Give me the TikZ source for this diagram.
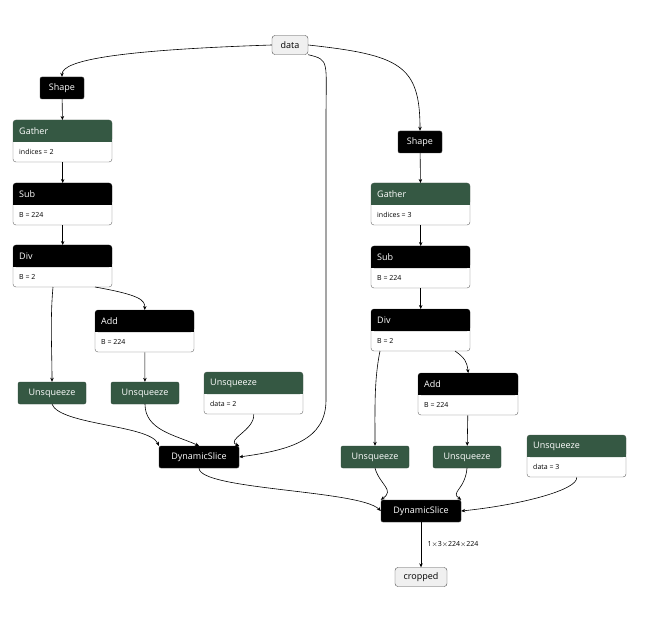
\documentclass[tikz,border=0pt]{standalone}
\usepackage{fontspec}
\setmainfont{Open Sans}
\usetikzlibrary{arrows.meta}
\definecolor{grn}{HTML}{355843}
\tikzset{
  x=1pt,y=-1pt,
  op/.style={draw=black!80,fill=black,text=white,rounded corners=2pt,inner sep=0pt,minimum height=22pt,font=\fontsize{9}{10}\selectfont},
  gop/.style={op,fill=grn,draw=grn!80!black},
  io/.style={draw=black!70,fill=black!6,rounded corners=3pt,inner sep=0pt,minimum height=19pt,font=\fontsize{9}{10}\selectfont},
  hdr/.style={anchor=north west,inner sep=0pt,text=white,font=\fontsize{9}{10}\selectfont,minimum height=22pt,text depth=0pt,align=left},
  attr/.style={font=\fontsize{7}{8}\selectfont,anchor=west,inner sep=0pt},
  e/.style={draw=black,line width=0.6pt,-{Stealth[length=4pt,width=3.5pt]}},
}
% name, x1, y1, x2, title, attribute, colour
\newcommand\opbox[7]{%
  \path[draw=black!60,fill=white,rounded corners=3pt] (#2,#3) rectangle (#4,#3+42);
  \path[fill=#7,rounded corners=3pt] (#2,#3) rectangle (#4,#3+22);
  \path[fill=#7] (#2,#3+12) rectangle (#4,#3+22);
  \node[inner sep=0pt,minimum width=#4pt-#2pt,minimum height=42pt,anchor=north west] (#1) at (#2,#3) {};
  \node[attr,text=white,font=\fontsize{9}{10}\selectfont] (#1-t) at (#2+6,#3+11) {#5};
  \node[attr] (#1-a) at (#2+6,#3+32) {#6};
}
\begin{document}
\begin{tikzpicture}
\useasboundingbox (0,0) rectangle (660,617);
\node[io,minimum width=36pt] (data) at (290,45) {data};
\node[op,minimum width=44pt] (shL) at (62,88) {Shape};
\opbox{gaL}{13}{120}{112}{Gather}{indices = 2}{grn}
\opbox{suL}{13}{183}{112}{Sub}{B = 224}{black}
\opbox{diL}{13}{245}{112}{Div}{B = 2}{black}
\opbox{adL}{95}{310}{194}{Add}{B = 224}{black}
\node[gop,minimum width=68pt] (u1L) at (52,393) {Unsqueeze};
\node[gop,minimum width=68pt] (u2L) at (145,393) {Unsqueeze};
\opbox{u3L}{204}{372}{303}{Unsqueeze}{data = 2}{grn}
\node[op,minimum width=80pt] (dsL) at (199,457) {DynamicSlice};

\node[op,minimum width=44pt] (shR) at (420,142) {Shape};
\opbox{gaR}{371}{183}{470}{Gather}{indices = 3}{grn}
\opbox{suR}{371}{246}{470}{Sub}{B = 224}{black}
\opbox{diR}{371}{309}{470}{Div}{B = 2}{black}
\opbox{adR}{418}{373}{518}{Add}{B = 224}{black}
\node[gop,minimum width=68pt] (u1R) at (375,457) {Unsqueeze};
\node[gop,minimum width=68pt] (u2R) at (467,457) {Unsqueeze};
\opbox{u3R}{527}{435}{626}{Unsqueeze}{data = 3}{grn}
\node[op,minimum width=80pt] (dsR) at (421,511) {DynamicSlice};
\node[io,minimum width=52pt] (out) at (421,577) {cropped};

\draw[e] (data.west) .. controls (120,50) and (62,60) .. (shL.north);
\draw[e] (data.south east) .. controls (330,60) and (326,60) .. (326,120) -- (326,400) .. controls (326,440) and (290,450) .. (dsL.east);
\draw[e] (data.east) .. controls (400,55) and (420,65) .. (shR.north);
\draw[e] (shL) -- (gaL);
\draw[e] (gaL) -- (suL);
\draw[e] (suL) -- (diL);
\draw[e] (53,287) .. controls (50,320) and (52,350) .. (u1L.north);
\draw[e] (95,287) .. controls (140,295) and (145,300) .. (adL.north);
\draw[e] (adL) -- (u2L);
\draw[e] (u1L.south) .. controls (60,425) and (150,425) .. (dsL.north west);
\draw[e] (u2L.south) .. controls (145,430) and (175,435) .. (dsL.north);
\draw[e] (u3L.south) .. controls (255,430) and (225,440) .. (dsL.north east);
\draw[e] (dsL.south) .. controls (200,490) and (360,490) .. (dsR.west);
\draw[e] (shR) -- (gaR);
\draw[e] (gaR) -- (suR);
\draw[e] (suR) -- (diR);
\draw[e] (380,351) .. controls (374,380) and (375,410) .. (u1R.north);
\draw[e] (455,351) .. controls (465,358) and (467,362) .. (adR.north);
\draw[e] (adR) -- (u2R);
\draw[e] (u1R.south) .. controls (380,485) and (395,490) .. (dsR.north west);
\draw[e] (u2R.south) .. controls (465,490) and (450,492) .. (dsR.north east);
\draw[e] (u3R.south) .. controls (578,490) and (520,505) .. (dsR.east);
\draw[e] (dsR) -- node[right,font=\fontsize{7}{8}\selectfont,xshift=3pt]{1$\times$3$\times$224$\times$224} (out);
\end{tikzpicture}
\end{document}
